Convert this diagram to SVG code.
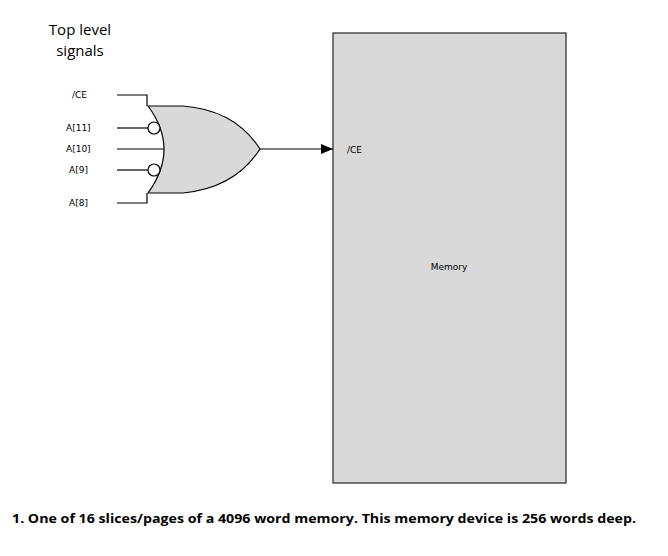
<svg xmlns="http://www.w3.org/2000/svg" width="668" height="556" viewBox="0 0 668 556">
<style>
.w{stroke:#000;stroke-width:1.2;fill:none}
.s{font-family:"DejaVu Sans",sans-serif;font-size:9px;fill:#000}
</style>
<defs><marker id="a" markerWidth="12" markerHeight="10" refX="12" refY="5" orient="auto" markerUnits="userSpaceOnUse"><path d="M0,0 L12,5 L0,10 z" fill="#000"/></marker></defs>
<rect width="668" height="556" fill="#fff"/>
<text x="80" y="35" text-anchor="middle" font-family="Open Sans, sans-serif" font-size="15">Top level</text>
<text x="80" y="56" text-anchor="middle" font-family="Open Sans, sans-serif" font-size="15">signals</text>
<g id="memory"><rect x="333" y="33" width="233" height="450" fill="#d9d9d9" stroke="#333" stroke-width="1.3"/>
<text class="s" x="347" y="153">/CE</text>
<text class="s" x="449" y="270" text-anchor="middle">Memory</text></g>
<g id="gate"><path d="M148,106 L183,106 Q235,110 260,149 Q235,188 183,193 L148,193 Q180,149 148,106 z" fill="#d9d9d9" stroke="#000" stroke-width="1.2"/>
<circle cx="154" cy="128" r="6" fill="#fff" stroke="#000" stroke-width="1.2"/>
<circle cx="154" cy="170" r="6" fill="#fff" stroke="#000" stroke-width="1.2"/></g>
<g id="labels">
<text class="s" x="72" y="98">/CE</text>
<text class="s" x="66" y="131">A[11]</text>
<text class="s" x="66" y="152">A[10]</text>
<text class="s" x="69" y="173">A[9]</text>
<text class="s" x="69" y="206">A[8]</text></g>
<g id="connectors">
<path class="w" d="M117,95 H147 V106"/>
<path class="w" d="M117,128 H148"/>
<path class="w" d="M117,149 H164"/>
<path class="w" d="M117,170 H148"/>
<path class="w" d="M117,203 H147 V193"/>
<path class="w" d="M260,149 H333" marker-end="url(#a)"/></g>
<text x="12" y="523" font-family="Open Sans, sans-serif" font-size="12.5" font-weight="bold" textLength="624" lengthAdjust="spacingAndGlyphs">1. One of 16 slices/pages of a 4096 word memory. This memory device is 256 words deep.</text>
</svg>
